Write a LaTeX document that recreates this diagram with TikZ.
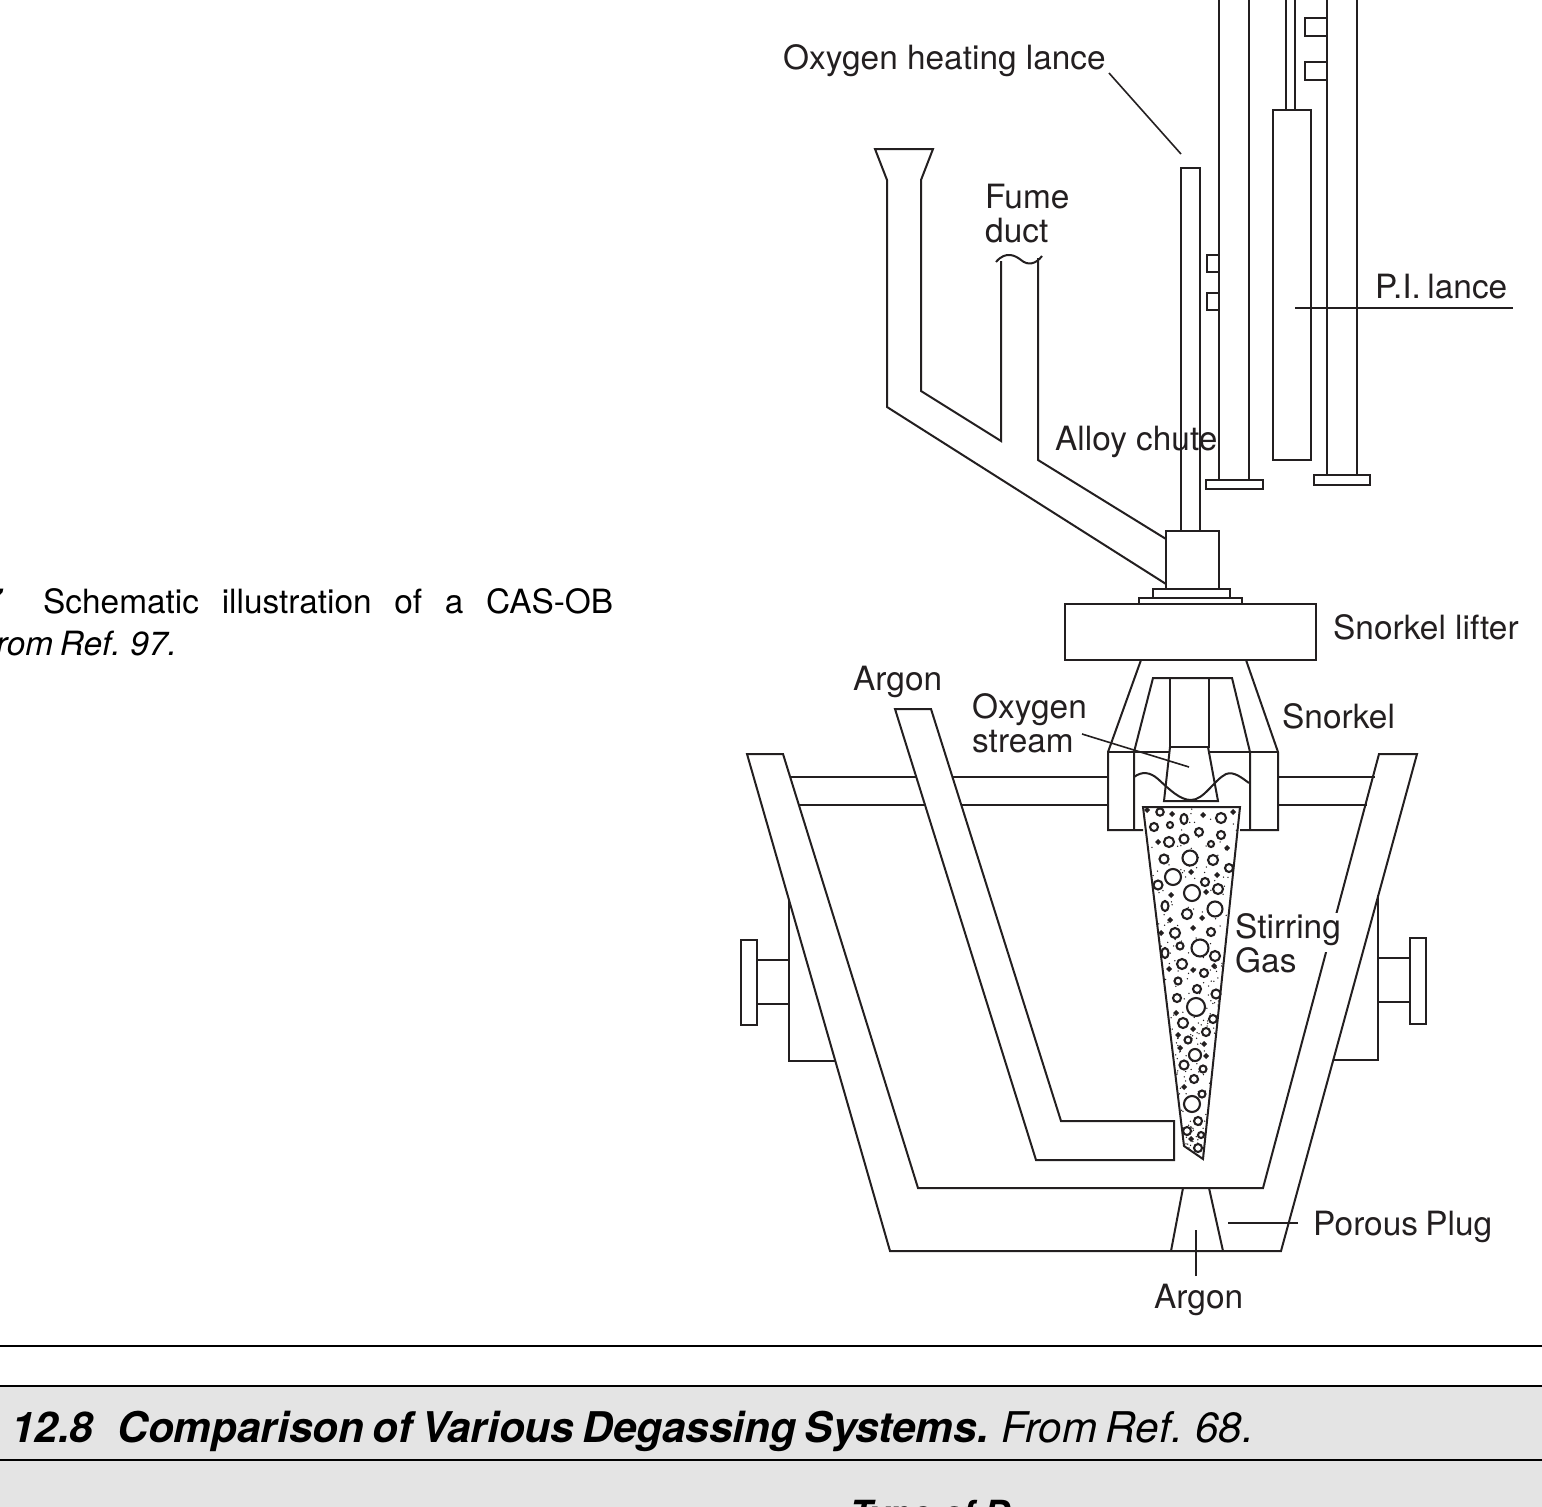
\documentclass[tikz,border=0pt]{standalone}
\usepackage{fontspec}
\setmainfont{TeX Gyre Heros}
\usepackage{xcolor}
\usepackage{tikz}
\definecolor{ink}{HTML}{231F20}
\definecolor{band}{HTML}{E4E4E4}

\begin{document}
\begin{tikzpicture}[
x=1pt, y=-1pt,
part/.style={draw=ink, line width=2pt, line join=miter},
lead/.style={draw=ink, line width=1.6pt},
lbl/.style={anchor=west, inner sep=0pt, text=ink, align=left, font=\fontsize{33.4}{34}\selectfont},
bub/.style={draw=ink, fill=white, line width=2.1pt},
dmd/.style={fill=ink}
]
\useasboundingbox (0,0) rectangle (1542,1507);
\clip (0,0) rectangle (1542,1507);
% table band
\fill[band] (0,1386) rectangle (1542,1507);
\draw[black, line width=2pt] (0,1346) -- (1542,1346);
\draw[black, line width=2pt] (0,1386) -- (1542,1386);
\draw[black, line width=2pt] (0,1460) -- (1542,1460);
\node[lbl, text=black, font=\fontsize{42.3}{43}\selectfont] (tabtitle) at (11,1431) {\spaceskip=.2em\textbf{\textit{12.8\hspace{24pt}Comparison of Various Degassing Systems.}} \textit{From Ref. 68.}};
\node[lbl, text=black, font=\fontsize{36}{36}\selectfont\bfseries\itshape, anchor=north west] (tabhead) at (850,1500) {Type of D};
% caption
\node[lbl, text=black, anchor=east, font=\fontsize{33}{34}\selectfont\bfseries\itshape] (capnum) at (1,601) {7};
\node[lbl, text=black] (capa) at (43,601) {\makebox[570pt][s]{Schematic illustration of a CAS-OB}};
\node[lbl, text=black] (capb) at (-4,644) {\spaceskip=.2em\textit{rom Ref. 97.}};
% lifting columns
\draw[part] (1219,-5) -- (1219,480);
\draw[part] (1249,-5) -- (1249,480);
\draw[part] (1206,480) rectangle (1263,489);
\draw[part] (1327,-5) -- (1327,475);
\draw[part] (1357,-5) -- (1357,475);
\draw[part] (1314,475) rectangle (1370,485);
\draw[part] (1286,-5) -- (1286,110);
\draw[part] (1295,-5) -- (1295,110);
\draw[part] (1273,110) rectangle (1311,460);
\draw[part] (1327,18) -- (1305,18) -- (1305,36) -- (1327,36);
\draw[part] (1327,62) -- (1305,62) -- (1305,80) -- (1327,80);
\draw[part] (1219,255) -- (1207,255) -- (1207,272) -- (1219,272);
\draw[part] (1219,293) -- (1207,293) -- (1207,310) -- (1219,310);
% oxygen lance
\draw[part] (1181,531) -- (1181,168) -- (1200,168) -- (1200,531);
\draw[part] (1166,531) rectangle (1219,589);
\draw[part] (1153,589) rectangle (1230,598);
\draw[part] (1139,598) rectangle (1242,604);
\draw[part] (1065,604) rectangle (1316,660);
% alloy chute
\draw[part] (1166,584) -- (887,407) -- (887,180) -- (875,149) -- (933,149) -- (921,180) -- (921,391) -- (1001,441) -- (1001,261);
\draw[part] (1038,258) -- (1038,460) -- (1166,539);
\draw[part] (996,262) .. controls (1006,250) and (1016,256) .. (1021,260) .. controls (1028,266) and (1036,264) .. (1042,256);
% snorkel
\draw[part] (1141,660) -- (1108,752) -- (1108,830) -- (1143,830);
\draw[part] (1246,660) -- (1278,752) -- (1278,830) -- (1240,830);
\draw[part] (1134,830) -- (1134,752) -- (1153,678) -- (1232,678) -- (1250,752) -- (1250,830);
\draw[part] (1108,752) -- (1170,752);
\draw[part] (1208,752) -- (1278,752);
\draw[part] (1170,678) -- (1170,747) -- (1209,747) -- (1209,678);
\draw[part] (1170,747) -- (1164,801) -- (1218,801) -- (1208,747);
\draw[part] (1134,777) .. controls (1142,771) and (1150,772) .. (1158,779) .. controls (1170,790) and (1180,800) .. (1191,800) .. controls (1204,800) and (1214,780) .. (1226,774) .. controls (1234,771) and (1242,778) .. (1249,783);
% ladle
\draw[part] (790,777) -- (916,777);
\draw[part] (953,777) -- (1108,777);
\draw[part] (798,805) -- (925,805);
\draw[part] (962,805) -- (1108,805);
\draw[part] (1278,777) -- (1375,777);
\draw[part] (1278,805) -- (1367,805);
\draw[part] (747,754) -- (783,754) -- (918,1188) -- (1263,1188) -- (1379,754) -- (1417,754) -- (1281,1251) -- (890,1251) -- cycle;
\draw[part] (1183,1188) -- (1171,1251);
\draw[part] (1209,1188) -- (1223,1251);
\draw[part] (789,900) -- (789,1061) -- (835,1061);
\draw[part] (757,960) rectangle (789,1004);
\draw[part] (741,940) rectangle (757,1025);
\draw[part] (1378,895) -- (1378,1060) -- (1334,1060);
\draw[part] (1378,958) rectangle (1410,1002);
\draw[part] (1410,938) rectangle (1426,1024);
% argon lance
\draw[part] (895,709) -- (931,709) -- (1061,1121) -- (1174,1121) -- (1174,1160) -- (1036,1160) -- cycle;
% plume
\draw[part] (1143,807) -- (1240,807) -- (1203,1159) -- (1184,1146) -- cycle;
\begin{scope}
\clip (1143,807) -- (1240,807) -- (1203,1159) -- (1184,1146) -- cycle;
\pgfmathsetseed{4217}
\foreach \i in {1,...,240} {
  \pgfmathsetmacro{\py}{808+rnd*350}
  \pgfmathsetmacro{\px}{1143+(\py-807)*0.12+rnd*(97-(\py-807)*0.225)}
  \fill[ink] (\px,\py) circle (0.75);
}
\end{scope}
\foreach \x/\y/\r in {1160/812/3.7,1221/818/5,1154/827/4,1170/825/3,1199/832/4,1221/835/4,1169/842/5,1184/839/4.5,1211/844/3,1164/859/4.5,1190/858/7.5,1213/860/5,1229/868/4,1173/877/8,1205/882/4,1158/885/4.5,1218/889/5,1192/893/8,1215/909/7.5,1187/914/5,1175/933/5,1211/932/4,1180/946/3.5,1200/948/8.5,1215/956/5,1182/964/5,1204/973/4,1178/981/3.5,1197/989/4,1216/994/4.5,1177/998/4,1196/1007/9,1213/1019/4,1183/1023/5,1206/1032/4,1188/1040/3.5,1195/1055/6,1184/1065/4.5,1203/1069/3.5,1194/1079/4,1202/1094/3.5,1192/1104/8,1198/1121/4,1187/1131/4,1201/1135/3,1198/1148/4}
  \draw[bub] (\x,\y) circle (\r);
\draw[bub] (1184,819) circle[x radius=3.5, y radius=5];
\draw[bub] (1165,906) circle[x radius=3.5, y radius=5];
\draw[bub] (1165,953) circle[x radius=3.5, y radius=5];
\foreach \x/\y in {1147/810,1172/814,1203/815,1233/812,1158/842,1227/848,1191/872,1217/875,1171/895,1206/892,1202/918,1170/920,1193/928,1161/933,1214/966,1169/969,1193/970,1176/1013,1193/1029,1178/1035,1204/1044,1180/1048,1206/1056,1184/1087,1191/1139}
  \fill[dmd] (\x,\y-3) -- (\x+3,\y) -- (\x,\y+3) -- (\x-3,\y) -- cycle;
% labels
\node[lbl] (ohl) at (783,61) {Oxygen heating lance};
\node[lbl] (fume) at (985,214) {Fume\\duct};
\node[lbl] (chute) at (1055,442) {Alloy chute};
\node[lbl] (pil) at (1375,287) {\spaceskip=.2em P.I. lance};
\node[lbl] (lifter) at (1333,627) {Snorkel lifter};
\node[lbl] (arg) at (853,682) {Argon};
\node[lbl] (ost) at (972,723) {Oxygen\\stream};
\node[lbl] (snk) at (1282,716) {Snorkel};
\node[lbl, fill=white, anchor=base west, text depth=14pt] (stir) at (1235,938) {Stirring};
\node[lbl] (gas) at (1235,960) {Gas};
\node[lbl] (plug) at (1313,1227) {\spaceskip=.22em Porous Plug};
\node[lbl] (argb) at (1154,1300) {Argon};
% leaders
\coordinate (ohla) at (1109,73);
\coordinate (ohlb) at (1181,154);
\coordinate (pila) at (1295,308);
\coordinate (pilb) at (1513,308);
\coordinate (osta) at (1082,734);
\coordinate (ostb) at (1189,767);
\coordinate (pluga) at (1298,1223);
\coordinate (plugb) at (1228,1223);
\coordinate (arga) at (1196,1276);
\coordinate (argc) at (1196,1230);
\draw[lead] (ohla) -- (ohlb);
\draw[lead] (pila) -- (pilb);
\draw[lead] (osta) -- (ostb);
\draw[lead] (pluga) -- (plugb);
\draw[lead] (arga) -- (argc);
\end{tikzpicture}
\end{document}
